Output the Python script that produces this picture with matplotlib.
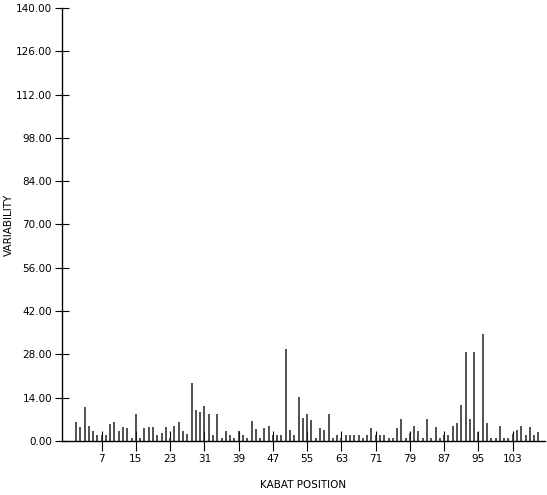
import matplotlib
matplotlib.use("Agg")
import matplotlib.pyplot as plt
import numpy as np

# Kabat position 1..109 and Wu-Kabat variability
positions = np.arange(1, 110)
variability = [
    6.2, 4.5, 11.0, 4.9, 3.3, 2.0, 2.0, 2.0, 5.4, 6.2,
    3.3, 4.6, 4.2, 0.9, 8.8, 0.9, 4.2, 4.5, 4.6, 2.0,
    2.6, 4.6, 0.9, 4.9, 6.2, 3.3, 2.3, 18.8, 10.0, 9.3,
    11.3, 8.8, 2.0, 8.8, 0.9, 3.3, 2.0, 1.0, 3.3, 2.0,
    1.0, 6.4, 3.8, 1.0, 4.3, 4.8, 2.0, 2.0, 2.0, 29.6,
    3.5, 2.0, 14.2, 7.6, 8.8, 6.7, 1.0, 4.1, 3.5, 8.8,
    1.0, 2.0, 1.0, 2.0, 2.0, 2.0, 2.0, 1.0, 2.0, 4.1,
    2.0, 2.0, 2.0, 0.9, 0.9, 4.3, 7.2, 0.9, 2.5, 4.9,
    3.3, 0.9, 7.2, 0.9, 4.6, 0.9, 2.0, 2.0, 4.9, 5.9,
    11.6, 28.7, 7.0, 28.7, 3.0, 34.7, 5.9, 0.9, 0.9, 4.9,
    0.9, 0.9, 2.2, 3.6, 4.9, 2.0, 4.5, 2.0, 2.8,
]
x_ticks = list(range(7, 104, 8))
y_ticks = np.arange(0, 141, 14)

fig = plt.figure(figsize=(5.47, 4.95), dpi=100)
ax = fig.add_axes([0.113, 0.109, 0.883, 0.875])

ax.vlines(positions, 0, variability, color="#222222", linewidth=1.1)

ax.set_xlim(-2.3, 110.5)
ax.set_ylim(0, 140)
ax.spines["top"].set_visible(False)
ax.spines["right"].set_visible(False)
for s in ("left", "bottom"):
    ax.spines[s].set_linewidth(1.0)

ax.set_xticks(x_ticks)
ax.set_yticks(y_ticks)
ax.set_yticklabels([f"{v:.2f}" for v in y_ticks])
ax.tick_params(axis="y", direction="inout", length=10, labelsize=7.5, pad=2)
ax.tick_params(axis="x", direction="inout", length=14, labelsize=7.5, pad=2)

ax.set_xlabel("KABAT POSITION", fontsize=7.5, labelpad=12)
ax.set_ylabel("VARIABILITY", fontsize=7.5)
ax.yaxis.set_label_coords(-0.1, 0.5)

plt.savefig("out.png", dpi=100)
